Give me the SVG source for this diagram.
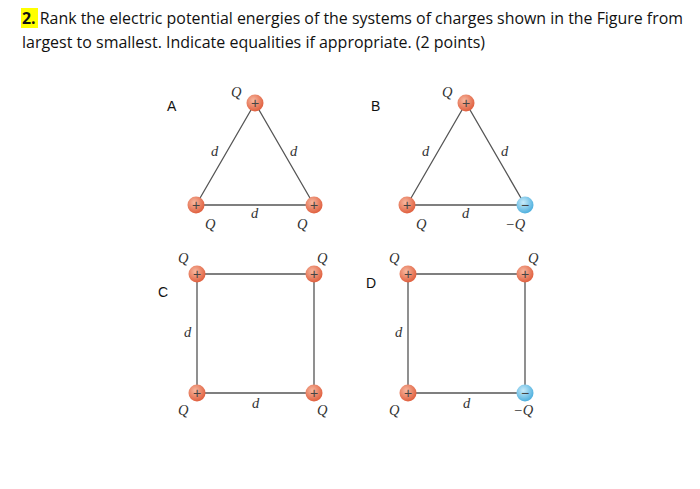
<svg xmlns="http://www.w3.org/2000/svg" width="700" height="489" viewBox="0 0 700 489">
<style>
.t{font-family:"Open Sans","Liberation Sans",sans-serif;font-size:16px;fill:#111}
.lab{font-family:"Liberation Sans",sans-serif;font-size:14px;fill:#111}
.v{font-family:"Liberation Serif",serif;font-style:italic;font-size:14.5px;fill:#333}
.ln{stroke:#555;stroke-width:1.3;fill:none}
.s{font-family:"Liberation Sans",sans-serif;font-size:14px;fill:#444;text-anchor:middle}
</style>
<defs>
<radialGradient id="p" cx="40%" cy="35%" r="65%"><stop offset="0" stop-color="#f7b8a0"/><stop offset="1" stop-color="#e0603f"/></radialGradient>
<radialGradient id="n" cx="40%" cy="35%" r="65%"><stop offset="0" stop-color="#c8ebfa"/><stop offset="1" stop-color="#4fb0de"/></radialGradient>
<g id="pc"><circle r="8.5" fill="url(#p)"/><text class="s" y="5">+</text></g>
<g id="nc"><circle r="8.5" fill="url(#n)"/><text class="s" y="5">−</text></g>
</defs>
<rect x="21" y="8" width="17" height="20" fill="#ffff00"/>
<text class="t" x="22" y="24" textLength="661" lengthAdjust="spacingAndGlyphs"><tspan font-weight="bold">2.</tspan> Rank the electric potential energies of the systems of charges shown in the Figure from</text>
<text class="t" x="22" y="48" textLength="463" lengthAdjust="spacingAndGlyphs">largest to smallest. Indicate equalities if appropriate. (2 points)</text>
<text class="lab" x="167" y="111">A</text>
<text class="lab" x="371" y="111">B</text>
<text class="lab" x="158" y="297">C</text>
<text class="lab" x="366" y="288">D</text>
<g id="connectors">
<path class="ln" d="M255,103 L196,205 L314,205 Z"/>
<path class="ln" d="M466,103 L407,205 L525,205 Z"/>
<path class="ln" d="M197,274 H314 V393 H197 Z"/>
<path class="ln" d="M408,274 H525 V393 H408 Z"/>
</g>
<g id="A">
<use href="#pc" x="255" y="103"/><use href="#pc" x="196" y="205"/><use href="#pc" x="314" y="205"/>
<text class="v" x="231" y="97">Q</text><text class="v" x="205" y="229">Q</text><text class="v" x="297" y="229">Q</text>
<text class="v" x="211" y="156">d</text><text class="v" x="290" y="156">d</text><text class="v" x="251" y="218">d</text>
</g>
<g id="B">
<use href="#pc" x="466" y="103"/><use href="#pc" x="407" y="205"/><use href="#nc" x="525" y="205"/>
<text class="v" x="442" y="97">Q</text><text class="v" x="416" y="229">Q</text><text class="v" x="505" y="229">−Q</text>
<text class="v" x="422" y="156">d</text><text class="v" x="501" y="156">d</text><text class="v" x="462" y="218">d</text>
</g>
<g id="C">
<use href="#pc" x="197" y="274"/><use href="#pc" x="314" y="274"/><use href="#pc" x="197" y="393"/><use href="#pc" x="314" y="393"/>
<text class="v" x="178" y="263">Q</text><text class="v" x="317" y="263">Q</text><text class="v" x="178" y="415">Q</text><text class="v" x="317" y="415">Q</text>
<text class="v" x="184" y="337">d</text><text class="v" x="252" y="408">d</text>
</g>
<g id="D">
<use href="#pc" x="408" y="274"/><use href="#pc" x="525" y="274"/><use href="#pc" x="408" y="393"/><use href="#nc" x="525" y="393"/>
<text class="v" x="389" y="263">Q</text><text class="v" x="528" y="263">Q</text><text class="v" x="389" y="415">Q</text><text class="v" x="513" y="415">−Q</text>
<text class="v" x="395" y="337">d</text><text class="v" x="463" y="408">d</text>
</g>
</svg>
